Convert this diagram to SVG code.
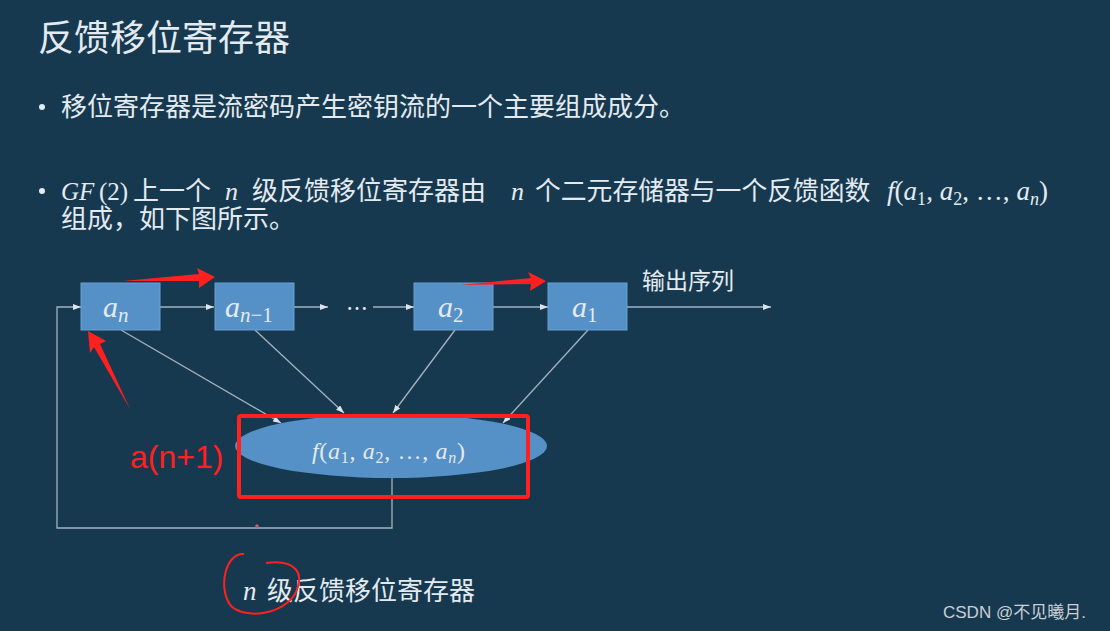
<svg xmlns="http://www.w3.org/2000/svg" width="1110" height="631" viewBox="0 0 1110 631">
<style>
.cn{font-family:"Noto Sans CJK SC","Noto Sans",sans-serif;fill:#e4ebf0}
.m{font-family:"Liberation Serif","DejaVu Serif",serif;font-style:italic;fill:#e4ebf0}
.up{font-style:normal}
.box{fill:#5590c6;stroke:#6aa0d2;stroke-width:1}
.ln{fill:none;stroke:#a3b3bf;stroke-width:1.3}
.red{fill:#ff2020}
.redl{fill:none;stroke:#ff2020}
</style>
<defs>
<marker id="ah" markerWidth="9" markerHeight="7" refX="8" refY="3" orient="auto" markerUnits="userSpaceOnUse">
<path d="M0,0 L8,3 L0,6 z" fill="#dde4e9"/>
</marker>
</defs>
<rect width="1110" height="631" fill="#173950"/>

<text class="cn" x="38" y="51" font-size="36">反馈移位寄存器</text>

<g id="bullet1">
<circle cx="42" cy="107" r="3" fill="#e4ebf0"/>
<text class="cn" x="61" y="116" font-size="26">移位寄存器是流密码产生密钥流的一个主要组成成分。</text>
</g>

<g id="bullet2">
<circle cx="42" cy="191" r="3" fill="#e4ebf0"/>
<text class="m" x="61" y="200" font-size="25">GF</text>
<text class="m up" x="99" y="200" font-size="25">(2)</text>
<text class="cn" x="133" y="200" font-size="26">上一个</text>
<text class="m" x="225" y="200" font-size="26">n</text>
<text class="cn" x="252" y="200" font-size="26">级反馈移位寄存器由</text>
<text class="m" x="511" y="200" font-size="26">n</text>
<text class="cn" x="535" y="200" font-size="25.8">个二元存储器与一个反馈函数</text>
<text class="m" x="887" y="200" font-size="27" textLength="161" lengthAdjust="spacing">f<tspan class="up">(</tspan>a<tspan font-size="18" class="up" dy="5">1</tspan><tspan class="up" dy="-5">, </tspan>a<tspan font-size="18" class="up" dy="5">2</tspan><tspan class="up" dy="-5">, …, </tspan>a<tspan font-size="18" dy="5">n</tspan><tspan class="up" dy="-5">)</tspan></text>
<text class="cn" x="61" y="228" font-size="26">组成，如下图所示。</text>
</g>

<g id="connectors">
<path class="ln" d="M160 307 L214 307" marker-end="url(#ah)"/>
<path class="ln" d="M294 307 L328 307" marker-end="url(#ah)"/>
<path class="ln" d="M373 307 L414 307" marker-end="url(#ah)"/>
<path class="ln" d="M493 307 L548 307" marker-end="url(#ah)"/>
<path class="ln" d="M627 307 L771 307" marker-end="url(#ah)"/>
<path class="ln" d="M392 478 V528 H57 V307 H81" marker-end="url(#ah)"/>
<path class="ln" d="M121 330 L281 423" marker-end="url(#ah)"/>
<path class="ln" d="M255 330 L344 413" marker-end="url(#ah)"/>
<path class="ln" d="M455 330 L393 413" marker-end="url(#ah)"/>
<path class="ln" d="M588 330 L503 423" marker-end="url(#ah)"/>
</g>

<g id="node-an">
<rect class="box" x="81" y="283" width="79" height="47"/>
<text class="m" x="103" y="317" font-size="30">a<tspan font-size="21" dy="5">n</tspan></text>
</g>
<g id="node-an1">
<rect class="box" x="215" y="283" width="79" height="47"/>
<text class="m" x="225" y="317" font-size="30">a<tspan font-size="21" dy="5">n<tspan class="up">−1</tspan></tspan></text>
</g>
<g id="node-dots">
<text class="cn" x="357" y="316" font-size="22" text-anchor="middle">…</text>
</g>
<g id="node-a2">
<rect class="box" x="414" y="283" width="79" height="47"/>
<text class="m" x="438" y="317" font-size="30">a<tspan class="up" font-size="21" dy="5">2</tspan></text>
</g>
<g id="node-a1">
<rect class="box" x="548" y="283" width="79" height="47"/>
<text class="m" x="572" y="317" font-size="30">a<tspan class="up" font-size="21" dy="5">1</tspan></text>
</g>
<g id="label-out">
<text class="cn" x="642" y="289" font-size="23">输出序列</text>
</g>
<g id="node-f">
<ellipse cx="391" cy="446" rx="156" ry="32" fill="#5590c6"/>
<text class="m" x="312" y="459" font-size="24" textLength="153" lengthAdjust="spacing">f<tspan class="up">(</tspan>a<tspan font-size="16" class="up" dy="4">1</tspan><tspan class="up" dy="-4">, </tspan>a<tspan font-size="16" class="up" dy="4">2</tspan><tspan class="up" dy="-4">, …, </tspan>a<tspan font-size="16" dy="4">n</tspan><tspan class="up" dy="-4">)</tspan></text>
</g>
<g id="caption">
<text class="m" x="243" y="600" font-size="27">n</text>
<text class="cn" x="267" y="600" font-size="26">级反馈移位寄存器</text>
</g>

<g id="annotations">
<polygon class="red" points="123,281 199,274 197,268 215,277 199,288 199,281"/>
<polygon class="red" points="460,285 531,278 528,272 546,281 530,291 531,284"/>
<polygon class="red" points="88,331 106,341 100,344 130,409 94,347 90,353"/>
<rect class="redl" x="239" y="416" width="289" height="81" rx="2" stroke-width="4"/>
<text x="130" y="468" font-family="Liberation Sans,Arial,sans-serif" font-size="32" fill="#ff2020">a(n+1)</text>
<path class="redl" stroke-width="2" d="M244 554 C226 552 217 588 231 606 C246 620 283 614 295 594 C305 574 297 559 266 563"/>
<circle cx="257" cy="526" r="1.8" fill="#c06060"/>
</g>

<text x="943" y="618" font-family="Liberation Sans,'Noto Sans CJK SC',sans-serif" font-size="17" fill="#c9d0d6">CSDN @不见曦月.</text>
</svg>
